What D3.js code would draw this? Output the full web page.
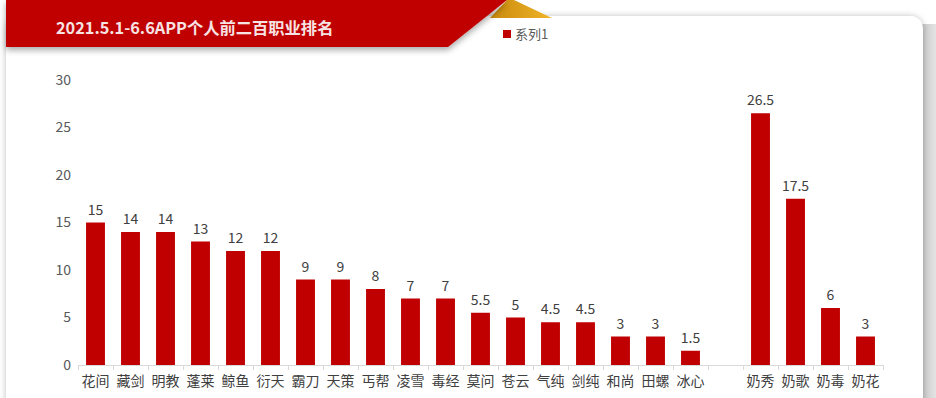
<!DOCTYPE html>
<html>
<head>
<meta charset="utf-8">
<script src="https://cdn.jsdelivr.net/npm/d3@7"></script>
<style>
  body { margin: 0; background: #fff; }
  text { font-family: "Noto Sans CJK SC", "Noto Sans", sans-serif; }
</style>
</head>
<body>
<div id="chart"></div>
<script>
// categories (one blank slot between the dps group and the healers)
var categories = ["花间","藏剑","明教","蓬莱","鲸鱼","衍天","霸刀","天策","丐帮","凌雪","毒经","莫问","苍云","气纯","剑纯","和尚","田螺","冰心"," ","奶秀","奶歌","奶毒","奶花"];
var values = [15,14,14,13,12,12,9,9,8,7,7,5.5,5,4.5,4.5,3,3,1.5,null,26.5,17.5,6,3];
var yTicks = [0,5,10,15,20,25,30];
var title = "2021.5.1-6.6APP个人前二百职业排名";
var seriesName = "系列1";

var W = 936, H = 398;
var red = "#c00000";

var svg = d3.select("#chart").append("svg")
  .attr("width", W).attr("height", H);

var defs = svg.append("defs");
var sh = defs.append("filter").attr("id", "shadow")
  .attr("x", "-5%").attr("y", "-10%").attr("width", "110%").attr("height", "130%");
sh.append("feDropShadow").attr("dx", 0).attr("dy", 0).attr("stdDeviation", 3)
  .attr("flood-color", "#000").attr("flood-opacity", 0.25);
var hs = defs.append("filter").attr("id", "hshadow")
  .attr("x", "-5%").attr("y", "-20%").attr("width", "110%").attr("height", "160%");
hs.append("feDropShadow").attr("dx", 0).attr("dy", 3).attr("stdDeviation", 3)
  .attr("flood-color", "#000").attr("flood-opacity", 0.35);
var gold = defs.append("linearGradient").attr("id", "gold")
  .attr("x1", 0).attr("y1", 0).attr("x2", 1).attr("y2", 0);
gold.append("stop").attr("offset", "0%").attr("stop-color", "#c98a0c");
gold.append("stop").attr("offset", "100%").attr("stop-color", "#f0b429");
var side = defs.append("linearGradient").attr("id", "side")
  .attr("x1", 0).attr("y1", 0).attr("x2", 1).attr("y2", 0);
side.append("stop").attr("offset", "0%").attr("stop-color", "#c4c4c4");
side.append("stop").attr("offset", "100%").attr("stop-color", "#e4e4e4");

// right-hand shadow strip
svg.append("rect").attr("x", 920).attr("y", 24).attr("width", 16).attr("height", H)
  .attr("fill", "url(#side)");

// card
svg.append("rect")
  .attr("x", 6).attr("y", 16).attr("width", 917).attr("height", 420)
  .attr("rx", 13).attr("fill", "#fff").attr("filter", "url(#shadow)");

// header
svg.append("path")
  .attr("d", "M507,0 L514,0 L552,18 L490,18 Z")
  .attr("fill", "url(#gold)");
svg.append("path")
  .attr("d", "M6,0 L507,0 L448,47 L6,47 Z")
  .attr("fill", red).attr("filter", "url(#hshadow)");
svg.append("text")
  .attr("x", 56).attr("y", 34)
  .attr("fill", "#f7e3e3").attr("font-size", 16.3).attr("font-weight", "bold")
  .text(title);

// legend
svg.append("rect").attr("x", 503).attr("y", 30).attr("width", 8).attr("height", 8).attr("fill", red);
svg.append("text").attr("x", 515).attr("y", 39).attr("font-size", 13)
  .attr("fill", "#595959").text(seriesName);

// scales
var x = d3.scaleBand().domain(categories).range([78, 883])
  .paddingInner(0.46).paddingOuter(0.23);
var y = d3.scaleLinear().domain([0, 30]).range([365, 80]);

// y axis labels
var yAxis = d3.axisLeft(y).tickValues(yTicks).tickSize(0).tickPadding(0);
var gy = svg.append("g").attr("transform", "translate(71,0)").call(yAxis);
gy.select(".domain").remove();
gy.selectAll("text").attr("font-size", 14).attr("fill", "#595959")
  .attr("font-family", "'Noto Sans CJK SC', sans-serif");

// bars
svg.append("g").selectAll("rect")
  .data(categories.filter(function(c, i){ return values[i] != null; }))
  .enter().append("rect")
  .attr("x", function(d){ return x(d); })
  .attr("y", function(d){ return y(values[categories.indexOf(d)]); })
  .attr("width", x.bandwidth())
  .attr("height", function(d){ return y(0) - y(values[categories.indexOf(d)]); })
  .attr("fill", red);

// value labels
svg.append("g").selectAll("text")
  .data(categories.filter(function(c, i){ return values[i] != null; }))
  .enter().append("text")
  .attr("x", function(d){ return x(d) + x.bandwidth() / 2; })
  .attr("y", function(d){ return y(values[categories.indexOf(d)]) - 8; })
  .attr("text-anchor", "middle").attr("font-size", 14).attr("fill", "#404040")
  .text(function(d){ return values[categories.indexOf(d)]; });

// x axis line + boundary ticks
var step = x.step();
var gx = svg.append("g");
gx.append("line").attr("x1", 78).attr("x2", 883).attr("y1", 365.5).attr("y2", 365.5)
  .attr("stroke", "#d9d9d9").attr("stroke-width", 1);
gx.selectAll("line.tk").data(d3.range(categories.length + 1))
  .enter().append("line").attr("class", "tk")
  .attr("x1", function(i){ return 78 + i * step + 0.5; })
  .attr("x2", function(i){ return 78 + i * step + 0.5; })
  .attr("y1", 365).attr("y2", 370)
  .attr("stroke", "#d9d9d9");
gx.selectAll("text").data(categories)
  .enter().append("text")
  .attr("x", function(d){ return x(d) + x.bandwidth() / 2; })
  .attr("y", 386)
  .attr("text-anchor", "middle").attr("font-size", 14).attr("fill", "#404040")
  .text(function(d){ return d; });
</script>
</body>
</html>
